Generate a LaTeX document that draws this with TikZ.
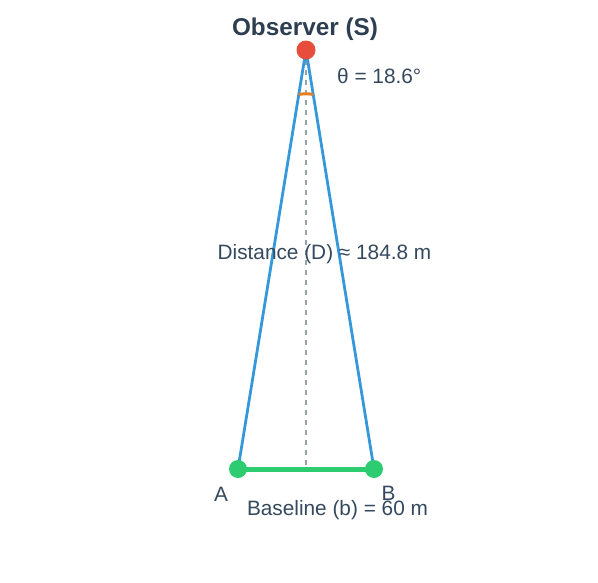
\documentclass[tikz,border=0pt]{standalone}
\usepackage{fontspec}
\setmainfont{Liberation Sans}
\usetikzlibrary{calc}
\definecolor{titlec}{HTML}{2C3E50}
\definecolor{textc}{HTML}{34495E}
\definecolor{bluec}{HTML}{3498DB}
\definecolor{greenc}{HTML}{2ECC71}
\definecolor{redc}{HTML}{E74C3C}
\definecolor{orangec}{HTML}{E67E22}
\definecolor{grayc}{HTML}{95A5A6}
\tikzset{
  sightline/.style={draw=bluec, line width=2.8pt},
  baseline/.style={draw=greenc, line width=5pt},
  midline/.style={draw=grayc, line width=1.2pt, dash pattern=on 5pt off 5pt},
  dotg/.style={circle, fill=greenc, minimum size=18pt, inner sep=0pt},
  dotr/.style={circle, fill=redc, minimum size=19pt, inner sep=0pt},
  lbl/.style={text=textc, font=\fontsize{20.8pt}{24pt}\selectfont, inner sep=0pt},
  ttl/.style={text=titlec, font=\fontsize{24.3pt}{28pt}\selectfont\bfseries, inner sep=0pt},
}
\begin{document}
\begin{tikzpicture}[x=1pt,y=-1pt]
\useasboundingbox (0,0) rectangle (598,582);
\coordinate (S) at (306,50);
\coordinate (A) at (238,469);
\coordinate (B) at (374,469);
\coordinate (M) at (306,469);
\draw[midline] (S) -- (M);
\draw[sightline] (S) -- (A);
\draw[sightline] (S) -- (B);
\draw[baseline] (A) -- (B);
\draw[orangec, line width=3pt] ($(S)!45pt!(A)$) arc[start angle=99.2, end angle=80.8, radius=45pt];
\node[dotg] (dA) at (A) {};
\node[dotg] (dB) at (B) {};
\node[dotr] (dS) at (S) {};
\node[ttl] (title) at (305,29.5) {Observer (S)};
\node[lbl, anchor=west] (theta) at (337,76) {θ = 18.6°};
\node[lbl] (dist) at (324.5,254.5) {Distance (D) ≈ 184.8 m};
\node[lbl] (la) at (221,494) {A};
\node[lbl] (lb) at (388.5,493) {B};
\node[lbl] (base) at (337.5,510) {Baseline (b) = 60 m};
\end{tikzpicture}
\end{document}
